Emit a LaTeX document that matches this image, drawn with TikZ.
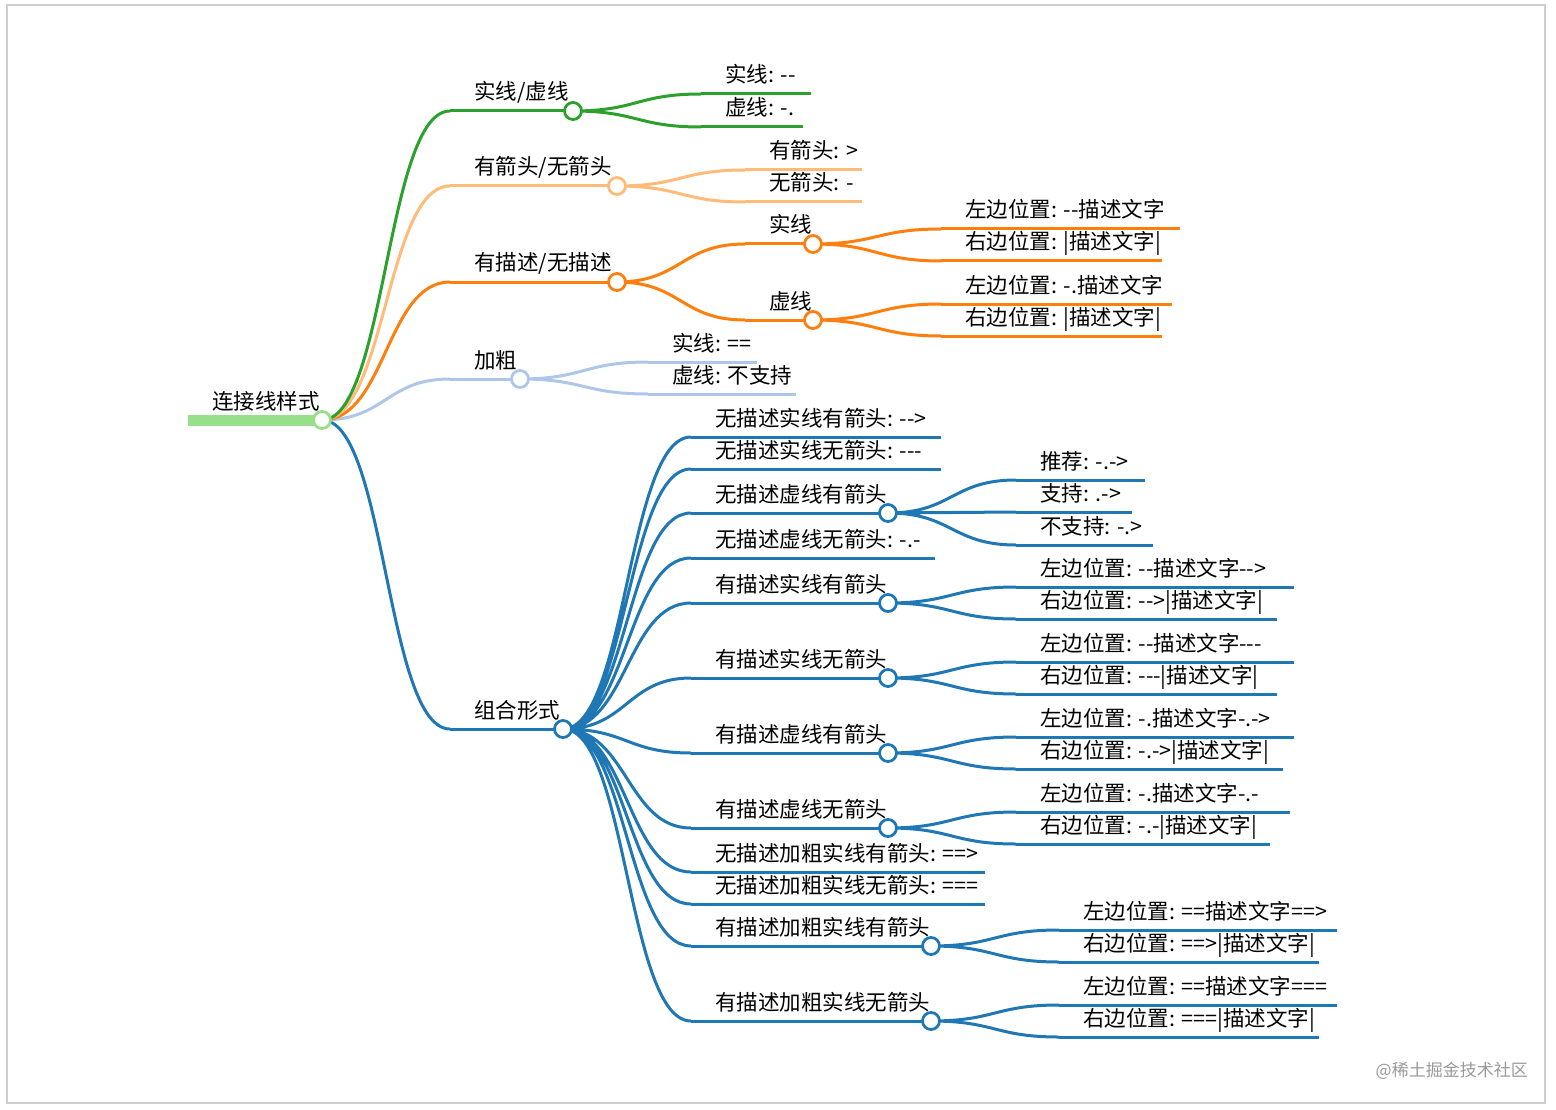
\documentclass[tikz,border=0pt]{standalone}
\usepackage{fontspec}
\setmainfont{Noto Sans CJK SC}[Ligatures=TeXOff]

\definecolor{cgreen}{HTML}{2CA02C}
\definecolor{cpeach}{HTML}{FFBB78}
\definecolor{corange}{HTML}{FF7F0E}
\definecolor{csky}{HTML}{AEC7E8}
\definecolor{cblue}{HTML}{1F77B4}
\definecolor{cmint}{HTML}{98DF8A}

\begin{document}
\begin{tikzpicture}[x=1pt,y=-1pt]
        \tikzstyle{branch}=[line width=3pt]
        \tikzstyle{link}=[branch,to path={.. controls +(64,0) and +(-64,0) .. (\tikztotarget)}]
        \tikzstyle{knob}=[circle,line width=2.8pt,fill=white,inner sep=0pt,minimum size=17pt]
        \tikzstyle{txt}=[anchor=base west,inner sep=0pt,xshift=24pt,yshift=11pt,font=\fontsize{21.5}{21.5}\selectfont]

        \useasboundingbox (0,0) rectangle (1556,1110);
        \draw[black!19,line width=2pt] (7,5) rectangle (1545,1103);

        % root and first level
        \coordinate (root-a) at (188,420); \coordinate (root-b) at (322,420);
        \coordinate (sx-a) at (450,111);   \coordinate (sx-b) at (573,111);
        \coordinate (jt-a) at (450,186);   \coordinate (jt-b) at (617,186);
        \coordinate (ms-a) at (450,282);   \coordinate (ms-b) at (617,282);
        \coordinate (jc-a) at (450,379);   \coordinate (jc-b) at (520,379);
        \coordinate (zh-a) at (450,729);   \coordinate (zh-b) at (563,729);

        % second level, upper part
        \coordinate (sx1-a) at (701,94);    \coordinate (sx1-b) at (811,94);
        \coordinate (sx2-a) at (701,127);   \coordinate (sx2-b) at (803,127);
        \coordinate (jt1-a) at (745,170);   \coordinate (jt1-b) at (862,170);
        \coordinate (jt2-a) at (745,202);   \coordinate (jt2-b) at (862,202);
        \coordinate (ms1-a) at (745,244);   \coordinate (ms1-b) at (813,244);
        \coordinate (ms2-a) at (745,320);   \coordinate (ms2-b) at (813,320);
        \coordinate (ms11-a) at (941,229);  \coordinate (ms11-b) at (1180,229);
        \coordinate (ms12-a) at (941,261);  \coordinate (ms12-b) at (1162,261);
        \coordinate (ms21-a) at (941,304);  \coordinate (ms21-b) at (1172,304);
        \coordinate (ms22-a) at (941,336);  \coordinate (ms22-b) at (1162,336);
        \coordinate (jc1-a) at (648,362);   \coordinate (jc1-b) at (757,362);
        \coordinate (jc2-a) at (648,394);   \coordinate (jc2-b) at (796,394);

        % second level, combined forms
        \coordinate (z1-a) at (691,437);    \coordinate (z1-b) at (941,437);
        \coordinate (z2-a) at (691,469);    \coordinate (z2-b) at (941,469);
        \coordinate (z3-a) at (691,513);    \coordinate (z3-b) at (888,513);
        \coordinate (z4-a) at (691,558);    \coordinate (z4-b) at (935,558);
        \coordinate (z5-a) at (691,603);    \coordinate (z5-b) at (888,603);
        \coordinate (z6-a) at (691,678);    \coordinate (z6-b) at (888,678);
        \coordinate (z7-a) at (691,753);    \coordinate (z7-b) at (888,753);
        \coordinate (z8-a) at (691,828);    \coordinate (z8-b) at (888,828);
        \coordinate (z9-a) at (691,872);    \coordinate (z9-b) at (985,872);
        \coordinate (z10-a) at (691,904);   \coordinate (z10-b) at (985,904);
        \coordinate (z11-a) at (691,946);   \coordinate (z11-b) at (931,946);
        \coordinate (z12-a) at (691,1021);  \coordinate (z12-b) at (931,1021);

        % third level
        \coordinate (z31-a) at (1016,480);  \coordinate (z31-b) at (1145,480);
        \coordinate (z32-a) at (1016,512);  \coordinate (z32-b) at (1132,512);
        \coordinate (z33-a) at (1016,545);  \coordinate (z33-b) at (1153,545);
        \coordinate (z51-a) at (1016,587);  \coordinate (z51-b) at (1294,587);
        \coordinate (z52-a) at (1016,619);  \coordinate (z52-b) at (1277,619);
        \coordinate (z61-a) at (1016,662);  \coordinate (z61-b) at (1294,662);
        \coordinate (z62-a) at (1016,694);  \coordinate (z62-b) at (1277,694);
        \coordinate (z71-a) at (1016,737);  \coordinate (z71-b) at (1294,737);
        \coordinate (z72-a) at (1016,769);  \coordinate (z72-b) at (1283,769);
        \coordinate (z81-a) at (1016,812);  \coordinate (z81-b) at (1290,812);
        \coordinate (z82-a) at (1016,844);  \coordinate (z82-b) at (1270,844);
        \coordinate (z111-a) at (1059,930); \coordinate (z111-b) at (1337,930);
        \coordinate (z112-a) at (1059,962); \coordinate (z112-b) at (1319,962);
        \coordinate (z121-a) at (1059,1005); \coordinate (z121-b) at (1337,1005);
        \coordinate (z122-a) at (1059,1037); \coordinate (z122-b) at (1319,1037);

        % underlines
        \draw[cmint,line width=11pt] (root-a) -- (root-b);
        \draw[cgreen,branch] (sx-a) -- (sx-b) (sx1-a) -- (sx1-b) (sx2-a) -- (sx2-b);
        \draw[cpeach,branch] (jt-a) -- (jt-b) (jt1-a) -- (jt1-b) (jt2-a) -- (jt2-b);
        \draw[corange,branch] (ms-a) -- (ms-b) (ms1-a) -- (ms1-b) (ms2-a) -- (ms2-b)
            (ms11-a) -- (ms11-b) (ms12-a) -- (ms12-b) (ms21-a) -- (ms21-b) (ms22-a) -- (ms22-b);
        \draw[csky,branch] (jc-a) -- (jc-b) (jc1-a) -- (jc1-b) (jc2-a) -- (jc2-b);
        \draw[cblue,branch] (zh-a) -- (zh-b)
            (z1-a) -- (z1-b) (z2-a) -- (z2-b) (z3-a) -- (z3-b) (z4-a) -- (z4-b)
            (z5-a) -- (z5-b) (z6-a) -- (z6-b) (z7-a) -- (z7-b) (z8-a) -- (z8-b)
            (z9-a) -- (z9-b) (z10-a) -- (z10-b) (z11-a) -- (z11-b) (z12-a) -- (z12-b)
            (z31-a) -- (z31-b) (z32-a) -- (z32-b) (z33-a) -- (z33-b)
            (z51-a) -- (z51-b) (z52-a) -- (z52-b) (z61-a) -- (z61-b) (z62-a) -- (z62-b)
            (z71-a) -- (z71-b) (z72-a) -- (z72-b) (z81-a) -- (z81-b) (z82-a) -- (z82-b)
            (z111-a) -- (z111-b) (z112-a) -- (z112-b) (z121-a) -- (z121-b) (z122-a) -- (z122-b);

        % connectors
        \draw[cblue,link] (root-b) to (zh-a);
        \draw[csky,link] (root-b) to (jc-a);
        \draw[corange,link] (root-b) to (ms-a);
        \draw[cpeach,link] (root-b) to (jt-a);
        \draw[cgreen,link] (root-b) to (sx-a);
        \draw[cgreen,link] (sx-b) to (sx1-a) (sx-b) to (sx2-a);
        \draw[cpeach,link] (jt-b) to (jt1-a) (jt-b) to (jt2-a);
        \draw[corange,link] (ms-b) to (ms1-a) (ms-b) to (ms2-a)
            (ms1-b) to (ms11-a) (ms1-b) to (ms12-a) (ms2-b) to (ms21-a) (ms2-b) to (ms22-a);
        \draw[csky,link] (jc-b) to (jc1-a) (jc-b) to (jc2-a);
        \draw[cblue,link] (zh-b) to (z1-a) (zh-b) to (z2-a) (zh-b) to (z3-a) (zh-b) to (z4-a)
            (zh-b) to (z5-a) (zh-b) to (z6-a) (zh-b) to (z7-a) (zh-b) to (z8-a)
            (zh-b) to (z9-a) (zh-b) to (z10-a) (zh-b) to (z11-a) (zh-b) to (z12-a);
        \draw[cblue,link] (z3-b) to (z31-a) (z3-b) to (z32-a) (z3-b) to (z33-a)
            (z5-b) to (z51-a) (z5-b) to (z52-a) (z6-b) to (z61-a) (z6-b) to (z62-a)
            (z7-b) to (z71-a) (z7-b) to (z72-a) (z8-b) to (z81-a) (z8-b) to (z82-a)
            (z11-b) to (z111-a) (z11-b) to (z112-a) (z12-b) to (z121-a) (z12-b) to (z122-a);

        % circles
        \node[knob,draw=cmint] (root) at (root-b) {};
        \node[knob,draw=cgreen] (sx) at (sx-b) {};
        \node[knob,draw=cpeach] (jt) at (jt-b) {};
        \node[knob,draw=corange] (ms) at (ms-b) {};
        \node[knob,draw=corange] (ms1) at (ms1-b) {};
        \node[knob,draw=corange] (ms2) at (ms2-b) {};
        \node[knob,draw=csky] (jc) at (jc-b) {};
        \node[knob,draw=cblue] (zh) at (zh-b) {};
        \node[knob,draw=cblue] (z3) at (z3-b) {};
        \node[knob,draw=cblue] (z5) at (z5-b) {};
        \node[knob,draw=cblue] (z6) at (z6-b) {};
        \node[knob,draw=cblue] (z7) at (z7-b) {};
        \node[knob,draw=cblue] (z8) at (z8-b) {};
        \node[knob,draw=cblue] (z11) at (z11-b) {};
        \node[knob,draw=cblue] (z12) at (z12-b) {};

        % texts
        \node[txt] (root-t) at (root-a) {连接线样式};
        \node[txt] (sx-t) at (sx-a) {实线/虚线};
        \node[txt] (sx1-t) at (sx1-a) {实线: --};
        \node[txt] (sx2-t) at (sx2-a) {虚线: -.};
        \node[txt] (jt-t) at (jt-a) {有箭头/无箭头};
        \node[txt] (jt1-t) at (jt1-a) {有箭头: >};
        \node[txt] (jt2-t) at (jt2-a) {无箭头: -};
        \node[txt] (ms-t) at (ms-a) {有描述/无描述};
        \node[txt] (ms1-t) at (ms1-a) {实线};
        \node[txt] (ms2-t) at (ms2-a) {虚线};
        \node[txt] (ms11-t) at (ms11-a) {左边位置: --描述文字};
        \node[txt] (ms12-t) at (ms12-a) {右边位置: |描述文字|};
        \node[txt] (ms21-t) at (ms21-a) {左边位置: -.描述文字};
        \node[txt] (ms22-t) at (ms22-a) {右边位置: |描述文字|};
        \node[txt] (jc-t) at (jc-a) {加粗};
        \node[txt] (jc1-t) at (jc1-a) {实线: ==};
        \node[txt] (jc2-t) at (jc2-a) {虚线: 不支持};
        \node[txt] (zh-t) at (zh-a) {组合形式};
        \node[txt] (z1-t) at (z1-a) {无描述实线有箭头: -->};
        \node[txt] (z2-t) at (z2-a) {无描述实线无箭头: ---};
        \node[txt] (z3-t) at (z3-a) {无描述虚线有箭头};
        \node[txt] (z4-t) at (z4-a) {无描述虚线无箭头: -.-};
        \node[txt] (z5-t) at (z5-a) {有描述实线有箭头};
        \node[txt] (z6-t) at (z6-a) {有描述实线无箭头};
        \node[txt] (z7-t) at (z7-a) {有描述虚线有箭头};
        \node[txt] (z8-t) at (z8-a) {有描述虚线无箭头};
        \node[txt] (z9-t) at (z9-a) {无描述加粗实线有箭头: ==>};
        \node[txt] (z10-t) at (z10-a) {无描述加粗实线无箭头: ===};
        \node[txt] (z11-t) at (z11-a) {有描述加粗实线有箭头};
        \node[txt] (z12-t) at (z12-a) {有描述加粗实线无箭头};
        \node[txt] (z31-t) at (z31-a) {推荐: -.->};
        \node[txt] (z32-t) at (z32-a) {支持: .->};
        \node[txt] (z33-t) at (z33-a) {不支持: -.>};
        \node[txt] (z51-t) at (z51-a) {左边位置: --描述文字-->};
        \node[txt] (z52-t) at (z52-a) {右边位置: -->|描述文字|};
        \node[txt] (z61-t) at (z61-a) {左边位置: --描述文字---};
        \node[txt] (z62-t) at (z62-a) {右边位置: ---|描述文字|};
        \node[txt] (z71-t) at (z71-a) {左边位置: -.描述文字-.->};
        \node[txt] (z72-t) at (z72-a) {右边位置: -.->|描述文字|};
        \node[txt] (z81-t) at (z81-a) {左边位置: -.描述文字-.-};
        \node[txt] (z82-t) at (z82-a) {右边位置: -.-|描述文字|};
        \node[txt] (z111-t) at (z111-a) {左边位置: ==描述文字==>};
        \node[txt] (z112-t) at (z112-a) {右边位置: ==>|描述文字|};
        \node[txt] (z121-t) at (z121-a) {左边位置: ==描述文字===};
        \node[txt] (z122-t) at (z122-a) {右边位置: ===|描述文字|};

        \node[anchor=east,inner sep=0pt,text=black!40,font=\fontsize{17}{17}\selectfont] (mark) at (1528,1071) {@稀土掘金技术社区};
\end{tikzpicture}
\end{document}
